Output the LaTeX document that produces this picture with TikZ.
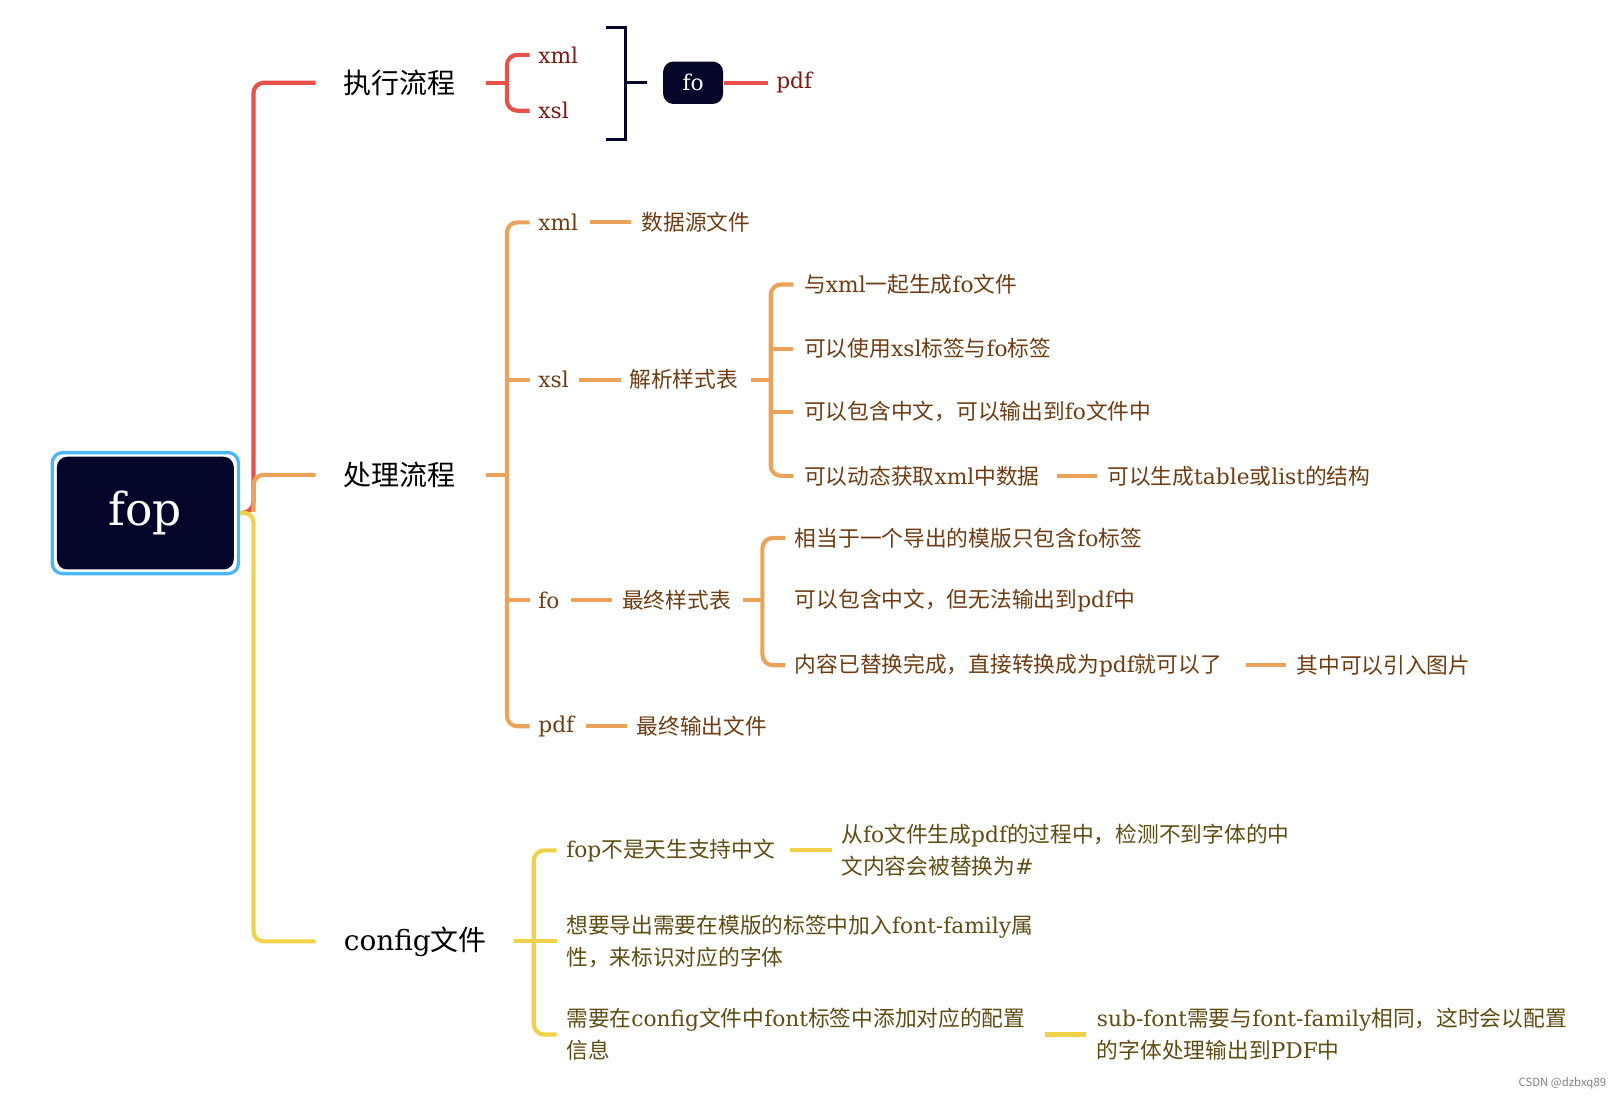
\documentclass[tikz,border=0pt]{standalone}
\usepackage{fontspec}
\setmainfont{Noto Sans CJK SC}
\newfontfamily\latf{DejaVu Serif}
\newcommand\la[1]{{\latf #1}}
\definecolor{cred}{HTML}{E8504A}
\definecolor{corg}{HTML}{EBA259}
\definecolor{cyel}{HTML}{F0D24A}
\definecolor{tred}{HTML}{7A1A12}
\definecolor{torg}{HTML}{6E3C12}
\definecolor{tyel}{HTML}{5E4C12}
\definecolor{navy}{HTML}{06062A}
\definecolor{cblue}{HTML}{4DB6F5}
\tikzset{
  ln/.style={line width=2pt, rounded corners=5pt},
  lf/.style={anchor=west, inner sep=2pt, font=\fontsize{10.5}{15.5}\selectfont, align=left},
  mf/.style={anchor=west, inner sep=2pt, font=\fontsize{13.5}{16}\selectfont}
}
\begin{document}
\begin{tikzpicture}[x=0.5pt,y=-0.5pt]
\useasboundingbox (0,0) rectangle (1566,1061);
% root
\node[draw=cblue, line width=1.6pt, rounded corners=5pt, minimum width=90pt, minimum height=58.5pt, inner sep=0] (rootb) at (140.5,496) {};
\node[fill=navy, rounded corners=5pt, minimum width=85.5pt, minimum height=54.5pt, text=white, font=\latf\fontsize{22}{24}\selectfont] (root) at (140.5,496) {fop};
% main labels
\node[mf] (m1) at (328,80) {执行流程};
\node[mf] (m2) at (328,459) {处理流程};
\node[mf] (m3) at (328,910) {\la{config}文件};
\coordinate (j) at (245,495);
\draw[ln,cred] (rootb.east) -- (j) -- (245,80) -- (305,80);
\draw[ln,corg] (j) -- (245,459) -- (305,459);
\draw[ln,cyel] (rootb.east) -- (j) -- (245,910) -- (305,910);
% red branch
\node[lf,text=tred] (rx) at (516,53) {\la{xml}};
\node[lf,text=tred] (rs) at (516,107) {\la{xsl}};
\draw[ln,cred] (470,80) -- (490,80);
\draw[ln,cred] (512,53) -- (490,53) -- (490,107) -- (512,107);
\draw[line width=1.4pt,navy] (586,27) -- (605,27) -- (605,135) -- (586,135);
\draw[line width=1.4pt,navy] (605,80) -- (625,80);
\node[fill=navy, rounded corners=5pt, minimum width=29pt, minimum height=20.5pt, text=white, inner sep=0, font=\latf\fontsize{10.5}{12}\selectfont] (fo) at (670,80) {fo};
\node[lf,text=tred] (pdf) at (746,80) {\la{pdf}};
\draw[ln,cred] (fo.east) -- (742,80);
% orange branch
\draw[ln,corg] (470,459) -- (490,459);
\draw[ln,corg] (512,215) -- (490,215) -- (490,702) -- (512,702);
\draw[ln,corg] (490,367) -- (512,367);
\draw[ln,corg] (490,580) -- (512,580);
\node[lf,text=torg] (ox) at (516,215) {\la{xml}};
\node[lf,text=torg] (os) at (516,367) {\la{xsl}};
\node[lf,text=torg] (of) at (516,580) {\la{fo}};
\node[lf,text=torg] (op) at (516,702) {\la{pdf}};
\node[lf,text=torg] (ox1) at (616,215) {数据源文件};
\draw[ln,corg] (570,215) -- (610,215);
\node[lf,text=torg] (os1) at (604,367) {解析样式表};
\draw[ln,corg] (560,367) -- (600,367);
\draw[ln,corg] (726,367) -- (745,367);
\draw[ln,corg] (767,275) -- (745,275) -- (745,460) -- (767,460);
\draw[ln,corg] (745,337) -- (767,337);
\draw[ln,corg] (745,398) -- (767,398);
\node[lf,text=torg] (a1) at (773,275) {与\la{xml}一起生成\la{fo}文件};
\node[lf,text=torg] (a2) at (773,337) {可以使用\la{xsl}标签与\la{fo}标签};
\node[lf,text=torg] (a3) at (773,398) {可以包含中文，可以输出到\la{fo}文件中};
\node[lf,text=torg] (a4) at (773,460) {可以动态获取\la{xml}中数据};
\node[lf,text=torg] (a5) at (1066,460) {可以生成\la{table}或\la{list}的结构};
\draw[ln,corg] (1022,460) -- (1060,460);
\node[lf,text=torg] (of1) at (597,580) {最终样式表};
\draw[ln,corg] (552,580) -- (592,580);
\draw[ln,corg] (718,580) -- (737,580);
\draw[ln,corg] (759,520) -- (737,520) -- (737,643) -- (759,643);
\node[lf,text=torg] (b1) at (764,520) {相当于一个导出的模版只包含\la{fo}标签};
\node[lf,text=torg] (b2) at (764,581) {可以包含中文，但无法输出到\la{pdf}中};
\node[lf,text=torg] (b3) at (764,643) {内容已替换完成，直接转换成为\la{pdf}就可以了};
\node[lf,text=torg] (b4) at (1249,643) {其中可以引入图片};
\draw[ln,corg] (1204,643) -- (1243,643);
\node[lf,text=torg] (op1) at (611,702) {最终输出文件};
\draw[ln,corg] (566,702) -- (606,702);
% yellow branch
\draw[ln,cyel] (497,910) -- (516,910);
\draw[ln,cyel] (538,822) -- (516,822) -- (516,1000) -- (538,1000);
\draw[ln,cyel] (516,910) -- (538,910);
\node[lf,text=tyel] (y1) at (543,822) {\la{fop}不是天生支持中文};
\node[lf,text=tyel] (y1a) at (809,822) {从\la{fo}文件生成\la{pdf}的过程中，检测不到字体的中\\文内容会被替换为\la{\#}};
\draw[ln,cyel] (764,822) -- (804,822);
\node[lf,text=tyel] (y2) at (543,910) {想要导出需要在模版的标签中加入\la{font-family}属\\性，来标识对应的字体};
\node[lf,text=tyel] (y3) at (543,1000) {需要在\la{config}文件中\la{font}标签中添加对应的配置\\信息};
\node[lf,text=tyel] (y3a) at (1056,1000) {\la{sub-font}需要与\la{font-family}相同，这时会以配置\\的字体处理输出到\la{PDF}中};
\draw[ln,cyel] (1010,1000) -- (1050,1000);
\node[anchor=east, text=gray, font=\fontsize{5.5}{6}\selectfont, inner sep=0] (wm) at (1553,1047) {CSDN @dzbxq89};
\end{tikzpicture}
\end{document}
